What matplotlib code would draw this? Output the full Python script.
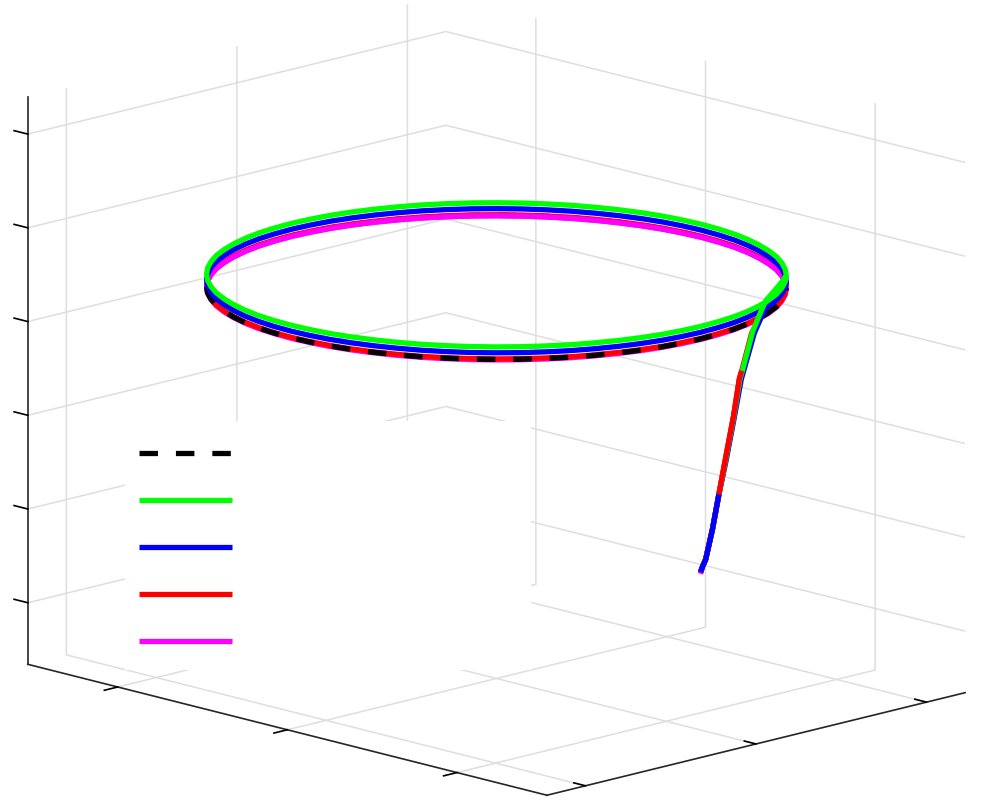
import numpy as np
import matplotlib
matplotlib.use("Agg")
import matplotlib.pyplot as plt
from matplotlib.lines import Line2D
from matplotlib.patches import Rectangle

# ---- data ----
x_ticks = [-1, 0, 1]
y_ticks = [-1, 0, 1]
z_ticks = [0, 1, 2, 3, 4, 5]
x_limits = (-1.53, 1.53)
y_limits = (-1.226, 1.226)
z_limits = (-0.657, 5.391)

ring_x = [.852, .775, .691, .603, .509, .412, .312, .209, .105, 0, -.105, -.209, -.312, -.412, -.509, -.603, -.691, -.775,
          -.852, -.923, -.987, -1.044, -1.092, -1.132, -1.164, -1.187, -1.200, -1.205, -1.200, -1.187, -1.164, -1.132,
          -1.092, -1.044, -.987, -.923, -.852, -.775, -.691, -.603, -.509, -.412, -.312, -.209, -.105, 0, .105, .209,
          .312, .412, .509, .603, .691, .775, .852, .923, .987, 1.044, 1.092, 1.132, 1.164, 1.187, 1.200, 1.205, 1.200,
          1.187, 1.164, 1.132, 1.092, 1.044, .987, .923, .852]
ring_y = [.852, .923, .987, 1.044, 1.092, 1.132, 1.164, 1.187, 1.200, 1.205, 1.200, 1.187, 1.164, 1.132, 1.092, 1.044, .987, .923,
          .852, .775, .691, .603, .509, .412, .312, .209, .105, 0, -.105, -.209, -.312, -.412, -.509, -.603, -.691, -.775,
          -.852, -.923, -.987, -1.044, -1.092, -1.132, -1.164, -1.187, -1.200, -1.205, -1.200, -1.187, -1.164, -1.132,
          -1.092, -1.044, -.987, -.923, -.852, -.775, -.691, -.603, -.509, -.412, -.312, -.209, -.105, 0, .105, .209,
          .312, .412, .509, .603, .691, .775, .852]

ring_z_reference = 3.517
ring_z_green = 3.650
ring_z_blue = 3.587
ring_z_red = 3.522
ring_z_magenta = 3.511

climb_xy_green = [.600, .606, .615, .635, .654, .674, .698, .716, .723, .753, .777, .792, .822, .846]
climb_xy_blue = [.600, .606, .615, .635, .654, .676, .700, .720, .727, .758, .782, .797, .825, .848]
climb_xy_red = [.600, .606, .615, .635, .654, .673, .697, .714, .721, .750, .774, .790, .820, .845]
climb_xy_magenta = [.600, .606, .615, .635, .654, .674, .698, .716, .723, .753, .777, .792, .820, .845]

climb_z_green = [.484, .545, .619, .941, 1.315, 1.690, 2.150, 2.546, 2.634, 3.049, 3.263, 3.384, 3.509, 3.616]
climb_z_blue = [.484, .545, .619, .941, 1.315, 1.690, 2.150, 2.546, 2.634, 3.035, 3.235, 3.335, 3.455, 3.545]
climb_z_red = [.484, .545, .619, .941, 1.315, 1.690, 2.150, 2.546, 2.634, 3.035, 3.205, 3.305, 3.415, 3.485]
climb_z_magenta = [.465, .545, .619, .941, 1.315, 1.690, 2.150, 2.546, 2.634, 3.035, 3.205, 3.295, 3.405, 3.475]

BACK = slice(0, 37)
FRONT = slice(36, 73)
RED_LOW = slice(0, 9)
BLUE_LOW = slice(0, 5)

GREEN, BLUE, RED, MAGENTA = "#00ff00", "#0000ff", "#ff0000", "#ff00ff"
LW = 3.8
DASH = (0, (3.5, 3.4))

fig = plt.figure(figsize=(9.96, 8.09), dpi=100)
ax = fig.add_axes([-12.5 / 996, -1.5 / 809, 1, 1], projection="3d", proj_type="ortho", computed_zorder=False)
ax.view_init(elev=14.4, azim=-44.6)
ax.set_box_aspect((739, 587, 585), zoom=1.333)
ax.set_xlim(*x_limits, view_margin=0)
ax.set_ylim(*y_limits, view_margin=0)
ax.set_zlim(*z_limits, view_margin=0)
ax.set_xticks(x_ticks)
ax.set_yticks(y_ticks)
ax.set_zticks(z_ticks)
ax.set_xticklabels([])
ax.set_yticklabels([])
ax.set_zticklabels([])
ax.zaxis.set_ticks_position("lower")
ax.zaxis._get_tickdir = lambda position: 0

for axis, tick_len in ((ax.xaxis, -.4), (ax.yaxis, .28), (ax.zaxis, .33)):
    axis.set_pane_color((1, 1, 1, 0))
    axis.pane.set_edgecolor((1, 1, 1, 0))
    axis.line.set_color("#262626")
    axis.line.set_linewidth(1.2)
    info = axis._axinfo
    info["grid"]["color"] = "#dedede"
    info["grid"]["linewidth"] = 1.1
    info["tick"]["inward_factor"] = 0
    info["tick"]["outward_factor"] = tick_len
    info["tick"]["color"] = "#262626"
    info["tick"]["linewidth"] = {True: 1.2, False: 0.8}


def series(climb_xy, climb_z, ring_z):
    x = np.array(climb_xy + ring_x)
    y = np.array(climb_xy + ring_y)
    z = np.array(climb_z + [ring_z] * len(ring_x))
    return x, y, z


rx = np.array(ring_x)
ry = np.array(ring_y)
rz = np.full(len(ring_x), ring_z_reference)

style = dict(lw=LW, solid_capstyle="butt", solid_joinstyle="round")

# black back half, hidden below the coloured rings
ax.plot(rx[BACK], ry[BACK], rz[BACK], color="k", lw=LW, ls=DASH, zorder=1)
ax.plot(*series(climb_xy_magenta, climb_z_magenta, ring_z_magenta), color=MAGENTA, zorder=1.1, **style)
ax.plot(*series(climb_xy_red, climb_z_red, ring_z_red), color=RED, zorder=1.2, **style)
ax.plot(rx[BACK], ry[BACK], np.full(37, ring_z_magenta), color=MAGENTA, zorder=1.3, **style)
ax.plot(rx[FRONT], ry[FRONT], rz[FRONT], color="k", lw=LW, ls=DASH, zorder=1.4)
ax.plot(*series(climb_xy_blue, climb_z_blue, ring_z_blue), color=BLUE, zorder=1.5, **style)
ax.plot(*series(climb_xy_green, climb_z_green, ring_z_green), color=GREEN, zorder=1.6, **style)
ax.plot(climb_xy_red[RED_LOW], climb_xy_red[RED_LOW], climb_z_red[RED_LOW], color=RED, zorder=1.7, **style)
ax.plot(climb_xy_blue[BLUE_LOW], climb_xy_blue[BLUE_LOW], climb_z_blue[BLUE_LOW], color=BLUE, zorder=1.8, **style)

# legend: white box without a frame, lines only
W, H = 996, 809
fig.add_artist(Rectangle((125 / W, 1 - 670 / H), 406 / W, 249 / H, transform=fig.transFigure,
                         facecolor="white", edgecolor="none", zorder=4))
handles = [Line2D([], [], color="k", lw=LW, ls=DASH),
           Line2D([], [], color=GREEN, lw=LW, solid_capstyle="butt"),
           Line2D([], [], color=BLUE, lw=LW, solid_capstyle="butt"),
           Line2D([], [], color=RED, lw=LW, solid_capstyle="butt"),
           Line2D([], [], color=MAGENTA, lw=LW, solid_capstyle="butt")]
leg = fig.legend(handles, [" "] * 5, loc="upper left", bbox_to_anchor=(139 / W, 1 - 447 / H),
                 frameon=False, borderpad=0, borderaxespad=0,
                 fontsize=10, handlelength=6.7, labelspacing=2.37, handletextpad=1)
leg.set_zorder(5)

fig.savefig("out.png", dpi=100)
